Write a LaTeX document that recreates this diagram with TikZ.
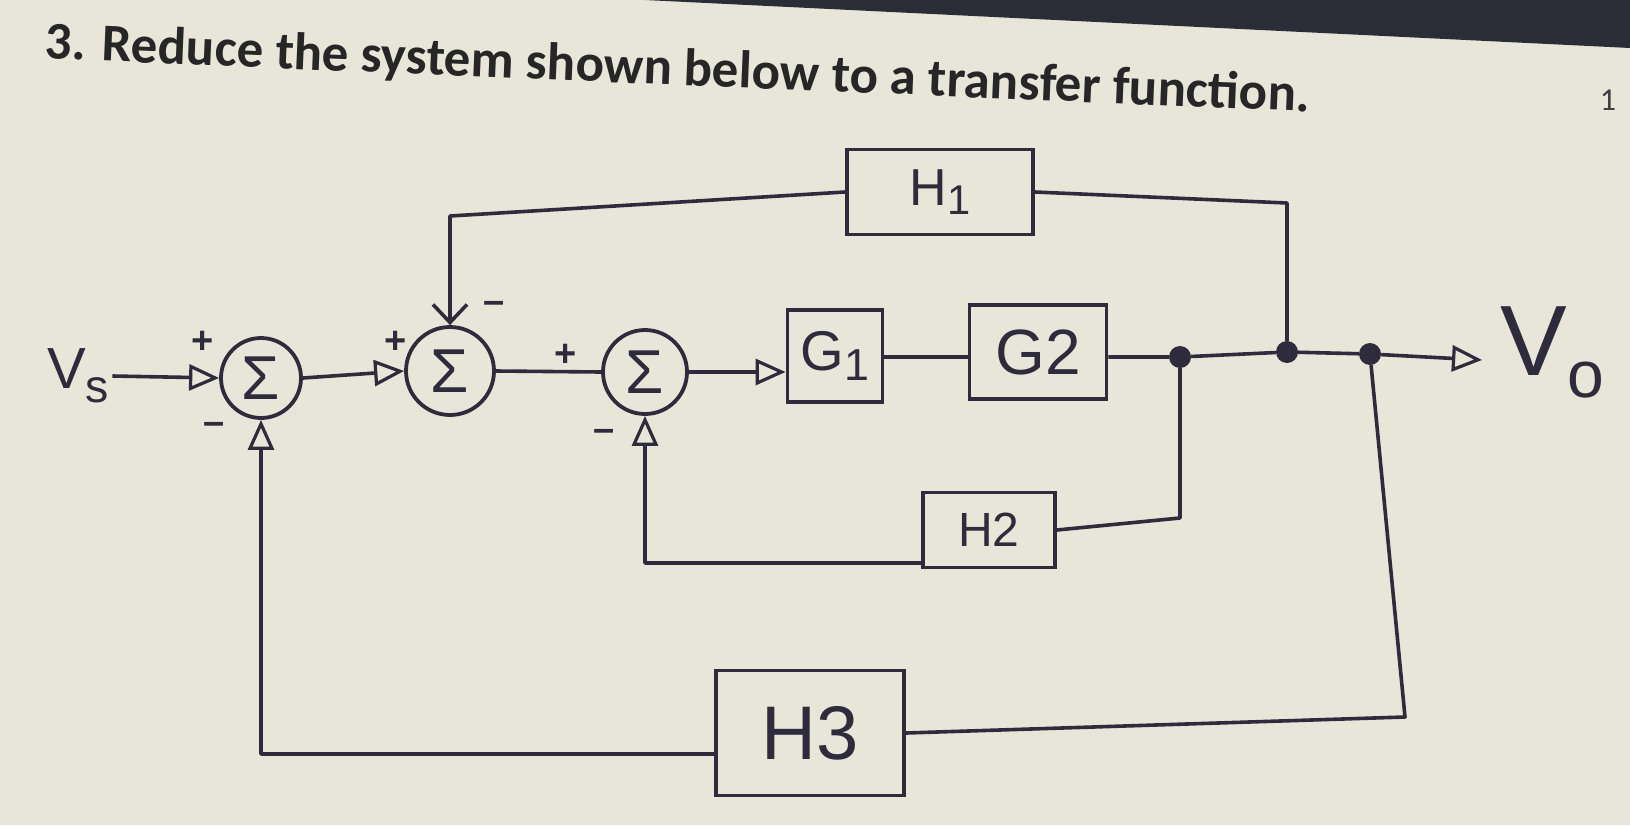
\documentclass[tikz,border=0pt]{standalone}
\usepackage{fontspec}
\setmainfont{Carlito}
\newfontfamily\hand{Liberation Sans}
\usetikzlibrary{arrows.meta}
\definecolor{paper}{HTML}{E7E6D9}
\definecolor{ink}{HTML}{2E2C3C}
\definecolor{band}{HTML}{2A2D36}
\newcommand\lbl[2]{#1\raisebox{-0.18em}{\scalebox{0.8}{#2}}}
\begin{document}
\begin{tikzpicture}[x=1pt,y=-1pt,
  wire/.style={draw=ink,line width=3.6pt,line join=round},
  arr/.style={wire,-{Triangle[open,length=30pt,width=26pt,line width=3.2pt]}},
  barb/.style={wire,-{Straight Barb[length=18pt,width=34pt,line width=3.6pt]}},
  sumj/.style={circle,draw=ink,line width=3.8pt,inner sep=0pt,font=\hand\fontsize{62}{62}\selectfont,text=ink},
  blk/.style={rectangle,draw=ink,line width=3.8pt,inner sep=0pt,text=ink},
  sgn/.style={text=ink,font=\hand\bfseries\fontsize{38}{38}\selectfont},
  dot/.style={circle,fill=ink,inner sep=0pt,minimum size=22pt}]
\fill[paper] (0,0) rectangle (1630,825);
\useasboundingbox (0,0) rectangle (1630,825);
\fill[band] (645,0) -- (1630,0) -- (1630,48) -- cycle;
% title
\node[anchor=west,rotate=-2.4,font=\bfseries\fontsize{53}{53}\selectfont,text=black!85] (title) at (42,44) {3. Reduce the system shown below to a transfer function.};
\node[font=\fontsize{32}{32}\selectfont,text=black!75] (pg) at (1608,100) {1};
% main chain
\node[text=ink,font=\hand\fontsize{58}{58}\selectfont] (vs) at (78,376) {V\raisebox{-0.25em}{\scalebox{0.8}{s}}};
\node[sumj,minimum size=80pt] (s1) at (261,378) {Σ};
\node[sumj,minimum size=88pt] (s2) at (450,371) {Σ};
\node[sumj,minimum size=84pt] (s3) at (645,372) {Σ};
\node[blk,minimum width=95pt,minimum height=92pt,font=\hand\fontsize{56}{56}\selectfont] (g1) at (835,356) {\lbl{G}{1}};
\node[blk,minimum width=137pt,minimum height=94pt,font=\hand\fontsize{64}{64}\selectfont] (g2) at (1038,352) {G2};
\node[dot] (b1) at (1180,357) {};
\node[dot] (b2) at (1287,352) {};
\node[dot] (b3) at (1370,354) {};
\coordinate (vo) at (1482,360);
\node[text=ink,font=\hand\fontsize{100}{100}\selectfont] (volbl) at (1552,352) {V\raisebox{-0.22em}{\scalebox{0.66}{o}}};
% feedback blocks
\node[blk,minimum width=186pt,minimum height=85pt,font=\hand\fontsize{52}{52}\selectfont] (h1) at (940,192) {\lbl{H}{1}};
\node[blk,minimum width=132pt,minimum height=75pt,font=\hand\fontsize{48}{48}\selectfont] (h2) at (989,530) {H2};
\node[blk,minimum width=188pt,minimum height=125pt,font=\hand\fontsize{76}{76}\selectfont] (h3) at (810,733) {H3};
% corners
\coordinate (h1l) at (450,216);
\coordinate (h1r) at (1287,203);
\coordinate (h2r) at (1192,518);
\coordinate (h2l) at (645,563);
\coordinate (h3r) at (1405,717);
\coordinate (h3l) at (261,754);
% forward path
\draw[arr] (vs.east) -- (s1.west);
\draw[arr] (s1.east) -- (s2.west);
\draw[wire] (s2.east) -- (s3.west);
\draw[arr] (s3.east) -- (s3.east -| g1.west);
\draw[wire] (g2.west |- b1) -- (g1.east |- b1);
\draw[wire] (g2.east |- b1) -- (b1) -- (b2) -- (b3);
\draw[arr] (b3) -- (vo);
% H1 loop
\draw[wire] (b2) -- (h1r) -- (h1.east);
\draw[barb] (h1.west) -- (h1l) -- (s2.north);
% H2 loop
\draw[wire] (b1) -- (b1 |- h2r) -- (h2.east);
\draw[arr] (h2.west |- h2l) -- (h2l) -- (s3.south);
% H3 loop
\draw[wire] (b3) -- (h3r) -- (h3.east);
\draw[arr] (h3.west |- h3l) -- (h3l) -- (s1.south);
% signs
\node[sgn] (p1) at (203,342) {+};
\node[sgn] (m1) at (214,428) {\textendash};
\node[sgn] (p2) at (396,342) {+};
\node[sgn] (m2) at (494,307) {\textendash};
\node[sgn] (p3) at (566,355) {+};
\node[sgn] (m3) at (604,435) {\textendash};
\end{tikzpicture}
\end{document}
